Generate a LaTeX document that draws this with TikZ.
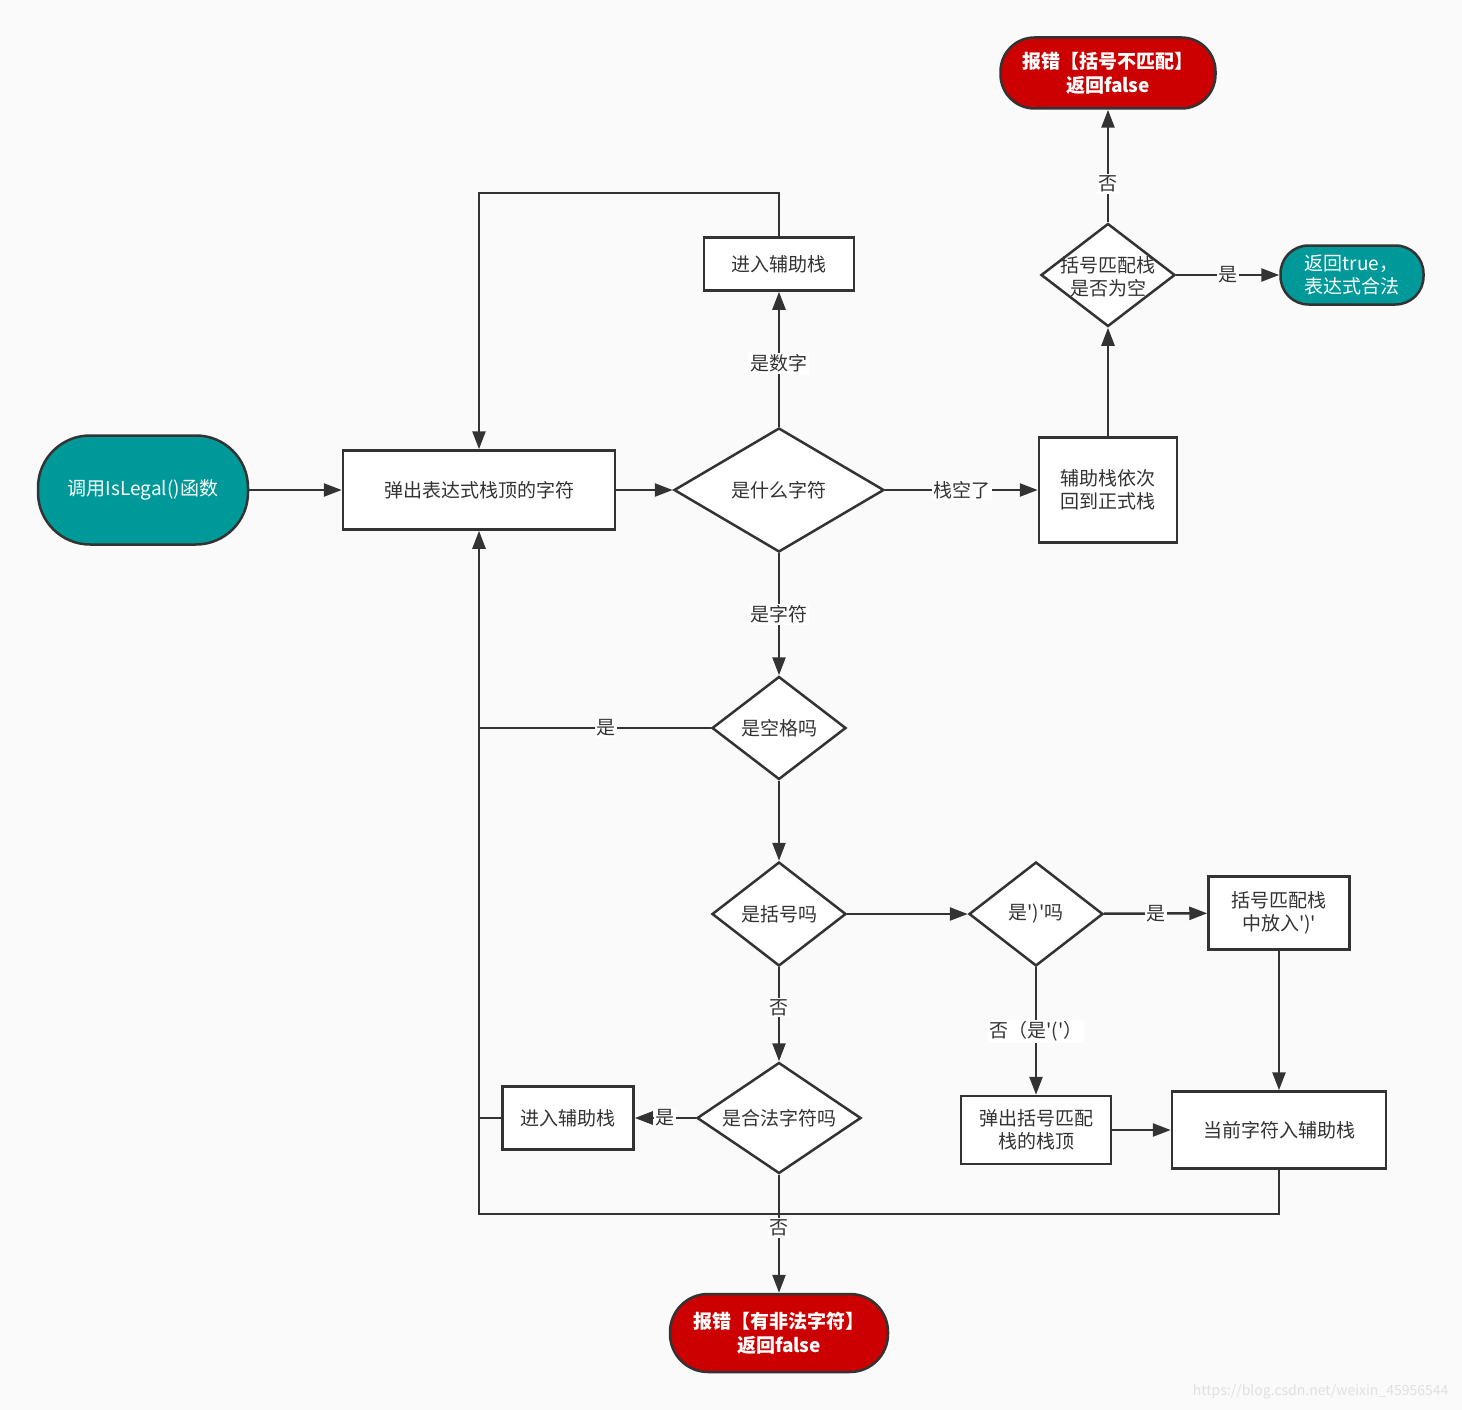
\documentclass[tikz,border=0pt]{standalone}
\usepackage{fontspec}
\newfontfamily\cjk{Noto Sans CJK SC}
\usetikzlibrary{arrows.meta,shapes.geometric}
\definecolor{bg}{HTML}{FAFAFA}
\definecolor{ln}{HTML}{333333}
\definecolor{teal1}{HTML}{009999}
\definecolor{red1}{HTML}{CC0000}
\begin{document}
\begin{tikzpicture}[x=1pt,y=-1pt,
  every node/.style={font=\cjk\fontsize{19}{23}\selectfont, text=ln},
  arr/.style={draw=ln, line width=2.5pt, -{Triangle[length=18pt,width=13pt]}},
  plain/.style={draw=ln, line width=2.5pt},
  boxn/.style={draw=ln, line width=2.5pt, fill=white, rectangle, inner sep=0pt, align=center},
  dia/.style={draw=ln, line width=2.5pt, fill=white, diamond, inner sep=0pt},
  term/.style={draw=ln, line width=2.5pt, rectangle, inner sep=0pt, align=center, text=white},
  lbl/.style={fill=white, inner sep=1.5pt}
]
\fill[bg] (0,0) rectangle (1462,1410);
\useasboundingbox (0,0) rectangle (1462,1410);

% nodes
\node[term, fill=teal1, minimum width=210pt, minimum height=109pt, rounded corners=52pt] (start) at (143,490) {调用IsLegal()函数};
\node[boxn, minimum width=272pt, minimum height=79pt] (b1) at (479,490) {弹出表达式栈顶的字符};
\node[dia, minimum width=210pt, minimum height=124pt, label={[text=ln]center:是什么字符}] (d1) at (779,490) {};
\node[boxn, minimum width=150pt, minimum height=53pt] (push1) at (779,264) {进入辅助栈};
\node[boxn, minimum width=138pt, minimum height=105pt] (back) at (1108,490) {辅助栈依次\\回到正式栈};
\node[dia, minimum width=134pt, minimum height=103pt, label={[align=center, yshift=-2pt]center:括号匹配栈\\是否为空}] (d2) at (1108,275) {};
\node[term, fill=red1, minimum width=215pt, minimum height=71pt, rounded corners=34pt, font=\cjk\fontsize{19}{24}\selectfont\bfseries] (errtop) at (1108,73) {报错【括号不匹配】\\返回false};
\node[term, fill=teal1, minimum width=143pt, minimum height=59pt, rounded corners=28pt, align=left] (ok) at (1352,275) {返回true，\\表达式合法};
\node[dia, minimum width=134pt, minimum height=103pt, label={[text=ln]center:是空格吗}] (d3) at (779,728) {};
\node[dia, minimum width=134pt, minimum height=104pt, label={[text=ln]center:是')'吗}] (d4x) at (1036,914) {};
\node[dia, minimum width=134pt, minimum height=104pt, label={[text=ln]center:是括号吗}] (d4) at (779,914) {};
\node[boxn, minimum width=141pt, minimum height=73pt] (b3) at (1279,913) {括号匹配栈\\中放入')'};
\node[dia, minimum width=164pt, minimum height=111pt, label={[text=ln]center:是合法字符吗}] (d6) at (779,1118) {};
\node[boxn, minimum width=131pt, minimum height=63pt] (push2) at (568,1118) {进入辅助栈};
\node[boxn, minimum width=150pt, minimum height=68pt] (b4) at (1036,1130) {弹出括号匹配\\栈的栈顶};
\node[boxn, minimum width=214pt, minimum height=77pt] (b5) at (1279,1130) {当前字符入辅助栈};
\node[term, fill=red1, minimum width=218pt, minimum height=78pt, rounded corners=38pt, font=\cjk\fontsize{19}{24}\selectfont\bfseries] (errbot) at (779,1333) {报错【有非法字符】\\返回false};

\coordinate (looptop) at (779,193);
\coordinate (jsp) at (479,728);
\coordinate (jp2) at (479,1118);
\coordinate (jbot) at (479,1214);
\coordinate (jbr) at (1279,1214);

% connectors
\draw[arr] (start) -- (b1);
\draw[arr] (b1) -- (d1);
\draw[arr] (d1) -- node[lbl, pos=0.47]{是数字} (push1);
\draw[arr] (push1.north) -- (looptop) -| (b1.north);
\draw[arr] (d1) -- node[lbl]{栈空了} (back);
\draw[arr] (back) -- (d2);
\draw[arr] (d2) -- node[lbl, pos=0.34]{否} (errtop);
\draw[arr] (d2) -- node[lbl]{是} (ok);
\draw[arr] (d1) -- node[lbl]{是字符} (d3);
\draw[plain] (d3) -- node[lbl, pos=0.45]{是} (jsp);
\draw[arr] (d3) -- (d4);
\draw[arr] (d4) -- (d4x);
\draw[arr] (d4x) -- node[lbl]{是} (b3);
\draw[arr] (d4x) -- node[lbl]{否（是'('）} (b4);
\draw[arr] (b3) -- (b5);
\draw[arr] (b4) -- (b5);
\draw[arr] (d4) -- node[lbl, pos=0.43]{否} (d6);
\draw[arr] (d6) -- node[lbl]{是} (push2);
\draw[plain] (push2) -- (jp2);
\draw[arr] (b5.south) -- (jbr) -- (jbot) -- (b1.south);
\draw[arr] (d6) -- node[lbl, pos=0.45]{否} (errbot);

\node[text=black!12, font=\cjk\fontsize{14}{16}\selectfont, anchor=east] (wm) at (1452,1392) {https://blog.csdn.net/weixin\_45956544};
\end{tikzpicture}
\end{document}
